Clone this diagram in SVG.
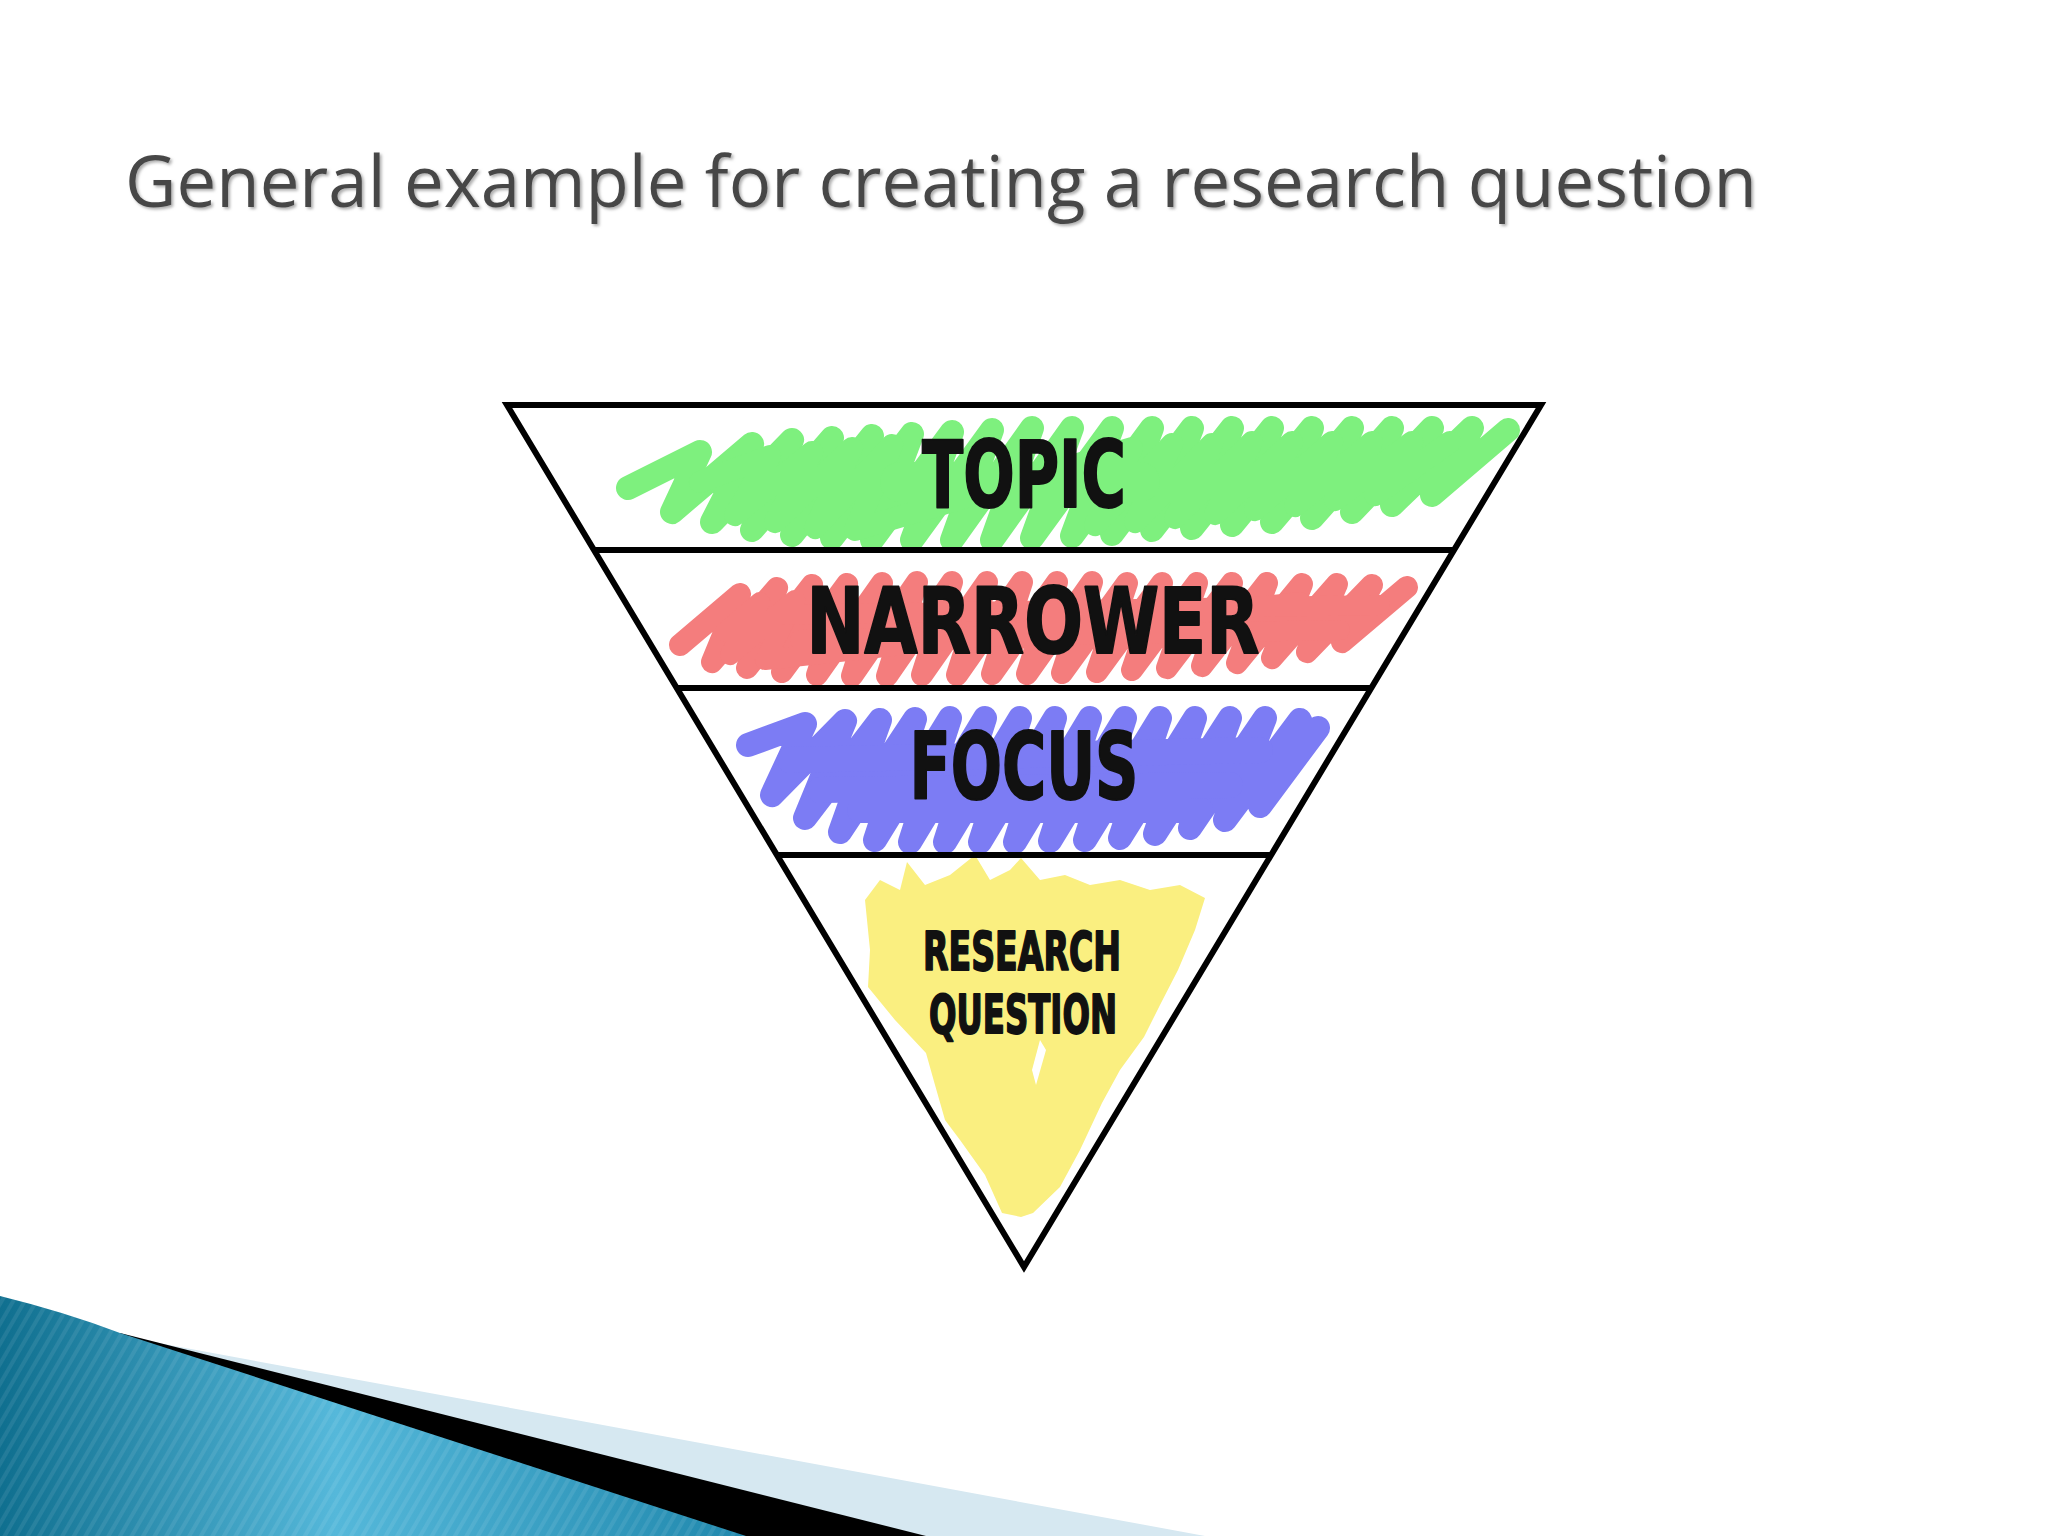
<svg xmlns="http://www.w3.org/2000/svg" width="2048" height="1536" viewBox="0 0 2048 1536">
<defs>
<style>
.title{font-family:"Open Sans","Noto Sans","Liberation Sans",sans-serif;font-size:72px;fill:#474747}
.lbl{font-family:"DejaVu Sans","Liberation Sans",sans-serif;font-weight:bold;fill:#111;stroke:#111;stroke-width:2;stroke-linejoin:round}
.scrib{fill:none;stroke-linecap:round;stroke-linejoin:round}
.edge{fill:none;stroke:#000;stroke-width:6;stroke-linejoin:miter}
</style>
<filter id="sh" x="-5%" y="-20%" width="110%" height="150%">
<feDropShadow dx="2" dy="2" stdDeviation="1.5" flood-color="#9a9a9a" flood-opacity="0.8"/>
</filter>
<linearGradient id="blue" x1="0" y1="0" x2="1" y2="0">
<stop offset="0" stop-color="#0f6f8f"/>
<stop offset="0.45" stop-color="#55b8da"/>
<stop offset="1" stop-color="#2088ad"/>
</linearGradient>
<pattern id="stripes" width="10" height="10" patternUnits="userSpaceOnUse" patternTransform="rotate(30)">
<rect width="4" height="10" fill="#ffffff" opacity="0.08"/>
</pattern>
</defs>
<rect width="2048" height="1536" fill="#ffffff"/>

<g id="title">
<text class="title" x="125" y="207" textLength="1632" lengthAdjust="spacingAndGlyphs" filter="url(#sh)">General example for creating a research question</text>
</g>

<g id="band-topic">
<path class="scrib" stroke="#7ef07e" stroke-width="24" d="M 628 488 L 700 452 L 672 512 L 752 444 L 712 522 L 792 440 L 752 530 L 832 438 L 792 535 L 872 436 L 832 538 L 912 434 L 872 540 L 952 432 L 912 540 L 992 430 L 952 540 L 1032 428 L 992 540 L 1072 428 L 1032 538 L 1112 428 L 1072 536 L 1152 428 L 1112 534 L 1192 428 L 1152 530 L 1232 428 L 1192 528 L 1272 428 L 1232 525 L 1312 428 L 1272 522 L 1352 428 L 1312 518 L 1392 428 L 1352 512 L 1432 428 L 1392 505 L 1472 428 L 1432 495 L 1508 430"/>
<path class="scrib" stroke="#7ef07e" stroke-width="22" d="M 700 482 L 770 456 L 735 515 L 812 452 L 775 522 L 852 448 L 815 528 L 892 445 L 855 530 L 1132 448 L 1095 525 L 1172 444 L 1135 522 L 1212 444 L 1175 518 L 1252 442 L 1215 514 L 1292 442 L 1255 510 L 1332 442 L 1295 506 L 1372 442 L 1335 500 L 1412 442 L 1375 495 L 1450 442"/>
<path class="scrib" stroke="#7ef07e" stroke-width="40" d="M 900 482 L 1140 482"/>
<text class="lbl" x="1024" y="507" font-size="92" text-anchor="middle" textLength="204" lengthAdjust="spacingAndGlyphs">TOPIC</text>
</g>

<g id="band-narrower">
<path class="scrib" stroke="#f47d7d" stroke-width="22" d="M 680 645 L 740 594 L 712 662 L 777 588 L 747 668 L 812 585 L 782 672 L 847 584 L 817 675 L 882 583 L 852 676 L 917 582 L 887 676 L 952 582 L 922 675 L 987 582 L 957 675 L 1022 582 L 992 674 L 1057 582 L 1027 674 L 1092 582 L 1062 673 L 1127 583 L 1097 672 L 1162 583 L 1132 670 L 1197 583 L 1167 668 L 1232 583 L 1202 666 L 1267 583 L 1237 663 L 1302 584 L 1272 658 L 1337 584 L 1307 652 L 1372 585 L 1342 642 L 1407 587"/>
<path class="scrib" stroke="#f47d7d" stroke-width="20" d="M 725 632 L 760 602 L 730 655 L 795 600 L 765 660 L 1300 602 M 800 640 L 1340 630 M 780 615 L 1380 605"/>
<text class="lbl" x="1033" y="653" font-size="90" text-anchor="middle" textLength="453" lengthAdjust="spacingAndGlyphs">NARROWER</text>
</g>

<g id="band-focus">
<path class="scrib" stroke="#7c7cf4" stroke-width="24" d="M 748 745 L 805 724 L 772 795 L 845 721 L 805 818 L 880 720 L 840 832 L 915 719 L 875 840 L 950 718 L 910 842 L 985 718 L 945 842 L 1020 718 L 980 842 L 1055 718 L 1015 842 L 1090 718 L 1050 841 L 1125 718 L 1085 840 L 1160 718 L 1120 838 L 1195 718 L 1155 834 L 1230 718 L 1190 828 L 1265 718 L 1225 820 L 1300 720 L 1260 806 L 1318 728"/>
<path class="scrib" stroke="#7c7cf4" stroke-width="26" d="M 790 760 L 1260 750 M 820 790 L 1230 785 M 860 810 L 1200 810"/>
<text class="lbl" x="1024" y="799" font-size="92" text-anchor="middle" textLength="229" lengthAdjust="spacingAndGlyphs">FOCUS</text>
</g>

<g id="band-question">
<path fill="#faef80" d="M 865 900 L 880 880 L 900 890 L 907 862 L 925 885 L 950 875 L 975 855 L 990 880 L 1010 870 L 1021 858 L 1040 880 L 1065 875 L 1090 885 L 1120 880 L 1150 890 L 1180 885 L 1205 898 L 1195 930 L 1178 970 L 1160 1005 L 1144 1037 L 1120 1070 L 1102 1103 L 1080 1150 L 1060 1187 L 1033 1213 L 1021 1217 L 1002 1213 L 985 1175 L 960 1140 L 945 1120 L 935 1085 L 926 1053 L 895 1020 L 868 987 L 870 950 Z"/>
<path fill="#ffffff" d="M 1040 1040 L 1046 1050 L 1036 1085 L 1032 1070 Z"/>
<text class="lbl" x="1022" y="970" font-size="54" text-anchor="middle" textLength="198" lengthAdjust="spacingAndGlyphs">RESEARCH</text>
<text class="lbl" x="1023" y="1033" font-size="54" text-anchor="middle" textLength="188" lengthAdjust="spacingAndGlyphs">QUESTION</text>
</g>

<g id="funnel">
<polygon class="edge" points="507,405 1541,405 1024,1267"/>
<line class="edge" x1="594" y1="550" x2="1454" y2="550"/>
<line class="edge" x1="677" y1="688" x2="1371" y2="688"/>
<line class="edge" x1="777" y1="855" x2="1271" y2="855"/>
</g>

<g id="swoosh">
<path fill="#d6e8f1" d="M 120 1333 L 153 1342 L 1205 1536 L 0 1536 Z"/>
<path fill="#000000" d="M 120 1333 L 926 1536 L 0 1536 Z"/>
<path fill="url(#blue)" d="M 0 1296 Q 65 1312 120 1333 L 746 1536 L 0 1536 Z"/>
<path fill="url(#stripes)" d="M 0 1296 Q 65 1312 120 1333 L 746 1536 L 0 1536 Z"/>
</g>
</svg>
